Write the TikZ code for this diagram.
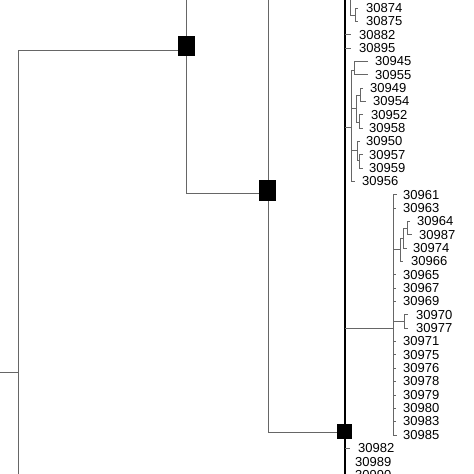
\documentclass[tikz,border=0pt]{standalone}
\usepackage{fontspec}
\setmainfont{Liberation Sans}
\begin{document}
\begin{tikzpicture}[x=1pt,y=-1pt,
  br/.style={draw=black!60,line width=0.8pt},
  mainln/.style={draw=black,line width=1.3pt},
  boxnode/.style={fill=black,draw=none,inner sep=0pt,minimum width=#1},
  lab/.style={anchor=west,inner sep=0pt,font=\fontsize{13}{13}\selectfont}]
\useasboundingbox (0,0) rectangle (474,474);
% leaf labels
\node[lab] (l30874) at (366,8.0) {30874};
\node[lab] (l30875) at (366,21.3) {30875};
\node[lab] (l30882) at (359,34.7) {30882};
\node[lab] (l30895) at (359,48.0) {30895};
\node[lab] (l30945) at (375,61.4) {30945};
\node[lab] (l30955) at (375,74.7) {30955};
\node[lab] (l30949) at (370,88.0) {30949};
\node[lab] (l30954) at (373,101.4) {30954};
\node[lab] (l30952) at (371,114.7) {30952};
\node[lab] (l30958) at (369,128.1) {30958};
\node[lab] (l30950) at (366,141.4) {30950};
\node[lab] (l30957) at (369,154.7) {30957};
\node[lab] (l30959) at (369,168.1) {30959};
\node[lab] (l30956) at (362,181.4) {30956};
\node[lab] (l30961) at (403,194.8) {30961};
\node[lab] (l30963) at (403,208.1) {30963};
\node[lab] (l30964) at (417,221.4) {30964};
\node[lab] (l30987) at (419,234.8) {30987};
\node[lab] (l30974) at (413,248.1) {30974};
\node[lab] (l30966) at (411,261.5) {30966};
\node[lab] (l30965) at (403,274.8) {30965};
\node[lab] (l30967) at (403,288.1) {30967};
\node[lab] (l30969) at (403,301.5) {30969};
\node[lab] (l30970) at (416,314.8) {30970};
\node[lab] (l30977) at (416,328.2) {30977};
\node[lab] (l30971) at (403,341.5) {30971};
\node[lab] (l30975) at (403,354.8) {30975};
\node[lab] (l30976) at (403,368.2) {30976};
\node[lab] (l30978) at (403,381.5) {30978};
\node[lab] (l30979) at (403,394.9) {30979};
\node[lab] (l30980) at (403,408.2) {30980};
\node[lab] (l30983) at (403,421.5) {30983};
\node[lab] (l30985) at (403,434.9) {30985};
\node[lab] (l30982) at (358,448.2) {30982};
\node[lab] (l30989) at (355,461.6) {30989};
\node[lab] (l30990) at (355,474.9) {30990};
% backbone lines
\draw[br] (186,0) -- (186,193) -- (259,193);
\draw[br] (268.5,0) -- (268.5,432) -- (337,432);
\draw[br] (178,50) -- (18,50) -- (18,474);
\draw[br] (0,372) -- (18,372);
\draw[mainln] (345,0) -- (345,474);
% square nodes
\node[boxnode=17pt,minimum height=20pt] (b1) at (186.5,46) {};
\node[boxnode=17pt,minimum height=21pt] (b2) at (267.5,190) {};
\node[boxnode=15pt,minimum height=15pt] (b3) at (344,431.5) {};
% top clade
\draw[br] (350,0) -- (350,15) -- (355,15);
\draw[br] (358,8.0) -- (355,8.0) -- (355,21.3) -- (358,21.3);
\draw[br] (345,34.7) -- (351,34.7);
\draw[br] (345,48.0) -- (351,48.0);
% middle clade
\draw[br] (345,127) -- (351,127);
\draw[br] (351,70) -- (351,181.4) -- (355,181.4);
\draw[br] (351,70) -- (354,70);
\draw[br] (368,61.4) -- (354,61.4) -- (354,74.7) -- (368,74.7);
\draw[br] (351,108) -- (356,108);
\draw[br] (360,95) -- (356,95) -- (356,122) -- (359,122);
\draw[br] (363,88.0) -- (360,88.0) -- (360,101.4) -- (366,101.4);
\draw[br] (363,114.7) -- (359,114.7) -- (359,128.1) -- (363,128.1);
\draw[br] (351,150) -- (357,150);
\draw[br] (360,141.4) -- (357,141.4) -- (357,160) -- (359,160);
\draw[br] (363,154.7) -- (359,154.7) -- (359,168.1) -- (363,168.1);
% right clade
\draw[br] (345,328) -- (393,328);
\draw[br] (397,194.8) -- (393,194.8) -- (393,434.9) -- (397,434.9);
\foreach \yy in {208.1,274.8,288.1,301.5,341.5,354.8,368.2,381.5,394.9,408.2,421.5}
  \draw[br] (393,\yy) -- (396,\yy);
\draw[br] (393,249) -- (400,249);
\draw[br] (403,238) -- (400,238) -- (400,261.5) -- (403,261.5);
\draw[br] (407,228) -- (403,228) -- (403,248.1) -- (407,248.1);
\draw[br] (410,221.4) -- (407,221.4) -- (407,234.8) -- (412,234.8);
\draw[br] (393,321.5) -- (404,321.5);
\draw[br] (408,314.8) -- (404,314.8) -- (404,328.2) -- (408,328.2);
% bottom ticks
\draw[br] (345,448.2) -- (350,448.2);
\end{tikzpicture}
\end{document}
